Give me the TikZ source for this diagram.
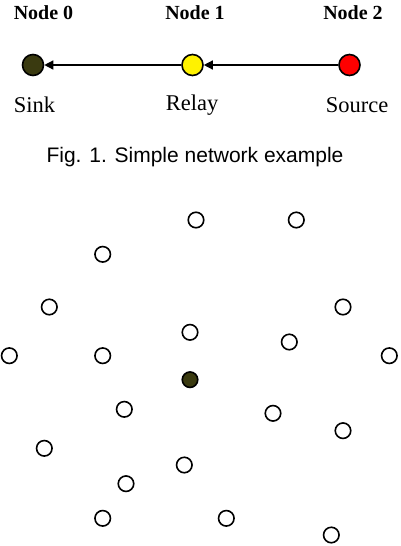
\documentclass[tikz,border=0pt]{standalone}
\usepackage{fontspec}
\setmainfont{Liberation Serif}
\newfontfamily\capfont{Liberation Sans}
\usetikzlibrary{arrows.meta}
\definecolor{sinkcol}{HTML}{3A3A10}
\tikzset{
  x=1pt, y=-1pt,
  bignode/.style={circle, draw=black, line width=1.6pt, minimum size=21pt, inner sep=0pt},
  smallnode/.style={circle, draw=black, line width=1.6pt, minimum size=15.5pt, inner sep=0pt, fill=white},
  toplabel/.style={font=\fontsize{20}{24}\selectfont\bfseries},
  botlabel/.style={font=\fontsize{22.5}{26}\selectfont},
  link/.style={line width=1.4pt, -{Triangle[length=9pt,width=9pt]}}
}
\begin{document}
\begin{tikzpicture}
\useasboundingbox (0,0) rectangle (400,546);
% top example
\node[bignode, fill=sinkcol] (n0) at (33,65) {};
\node[bignode, fill=yellow] (n1) at (192.5,65) {};
\node[bignode, fill=red] (n2) at (349.5,65) {};
\draw[link] (n2) -- (n1);
\draw[link] (n1) -- (n0);
\node[toplabel] (l0) at (43.5,13) {Node 0};
\node[toplabel] (l1) at (195,13) {Node 1};
\node[toplabel] (l2) at (353,13) {Node 2};
\node[botlabel] (s0) at (34.5,105) {Sink};
\node[botlabel] (s1) at (192,105) {Relay};
\node[botlabel] (s2) at (357,105) {Source};
\node[font=\capfont\fontsize{21}{25}\selectfont] (cap) at (195,157) {Fig. 1. Simple network example};
% network
\node[smallnode] (a1) at (196,220) {};
\node[smallnode] (a2) at (296.3,220) {};
\node[smallnode] (a3) at (102.7,254.3) {};
\node[smallnode] (a4) at (49.3,307) {};
\node[smallnode] (a5) at (343,307) {};
\node[smallnode] (a6) at (190,332.3) {};
\node[smallnode] (a7) at (289.3,342) {};
\node[smallnode] (a8) at (9.3,355.7) {};
\node[smallnode] (a9) at (102.7,355.7) {};
\node[smallnode] (a10) at (389.3,355.7) {};
\node[smallnode, fill=sinkcol] (sink) at (190,379.7) {};
\node[smallnode] (a12) at (124.3,409.3) {};
\node[smallnode] (a13) at (273,413.3) {};
\node[smallnode] (a14) at (343,430.7) {};
\node[smallnode] (a15) at (44.3,448.3) {};
\node[smallnode] (a16) at (184.3,465) {};
\node[smallnode] (a17) at (126,483.7) {};
\node[smallnode] (a18) at (102.7,518.3) {};
\node[smallnode] (a19) at (226.3,518.3) {};
\node[smallnode] (a20) at (331.3,535) {};
\end{tikzpicture}
\end{document}
